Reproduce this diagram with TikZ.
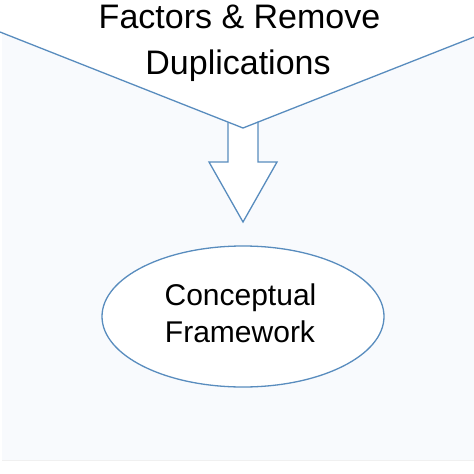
\documentclass[tikz,border=0pt]{standalone}
\usepackage{fontspec}
\setmainfont{Liberation Sans}
\usetikzlibrary{shapes.geometric}
\definecolor{linec}{RGB}{88,140,190}
\definecolor{panel}{RGB}{248,250,253}
\begin{document}
\begin{tikzpicture}[x=1pt,y=-1pt,
  outline/.style={draw=linec,line width=1.3pt,line join=miter},
  bigtext/.style={font=\fontsize{34}{46}\selectfont,align=center,inner sep=0pt},
  ovaltext/.style={font=\fontsize{30}{37}\selectfont,align=center},
]
\useasboundingbox (0,0) rectangle (474,474);
\fill[white] (0,0) rectangle (474,474);
\fill[panel] (2,0) rectangle (474,460);
\draw[black!6,line width=1.2pt] (2,460.5) -- (474,460.5);
% funnel
\coordinate (fl) at (0,32);
\coordinate (fr) at (474,37);
\coordinate (apex) at (243,128);
\fill[white] (0,0) -- (fl) -- (apex) -- (fr) -- (474,0) -- cycle;
% block arrow
\coordinate (sl) at (228,122.4);
\coordinate (sr) at (258,121.7);
\coordinate (tip) at (243,222);
\fill[white] (sl) -- (apex) -- (sr) -- (258,162) -- (277,162) -- (tip) -- (209,162) -- (228,162) -- cycle;
\draw[outline] (fl) -- (apex) -- (fr);
\draw[outline] (sl) -- (228,162) -- (209,162) -- (tip) -- (277,162) -- (258,162) -- (sr);
% texts
\node[bigtext,anchor=base] (t1) at (239.5,28) {Factors \& Remove};
\node[bigtext,anchor=base] (t2) at (238,74) {Duplications};
\node[ellipse,outline,fill=white,minimum width=282pt,minimum height=141pt,inner sep=0pt] (cf) at (243,316.5) {};
\node[ovaltext,anchor=base,inner sep=0pt] (c1) at (240.5,305) {Conceptual};
\node[ovaltext,anchor=base,inner sep=0pt] (c2) at (240,342) {Framework};
\end{tikzpicture}
\end{document}
